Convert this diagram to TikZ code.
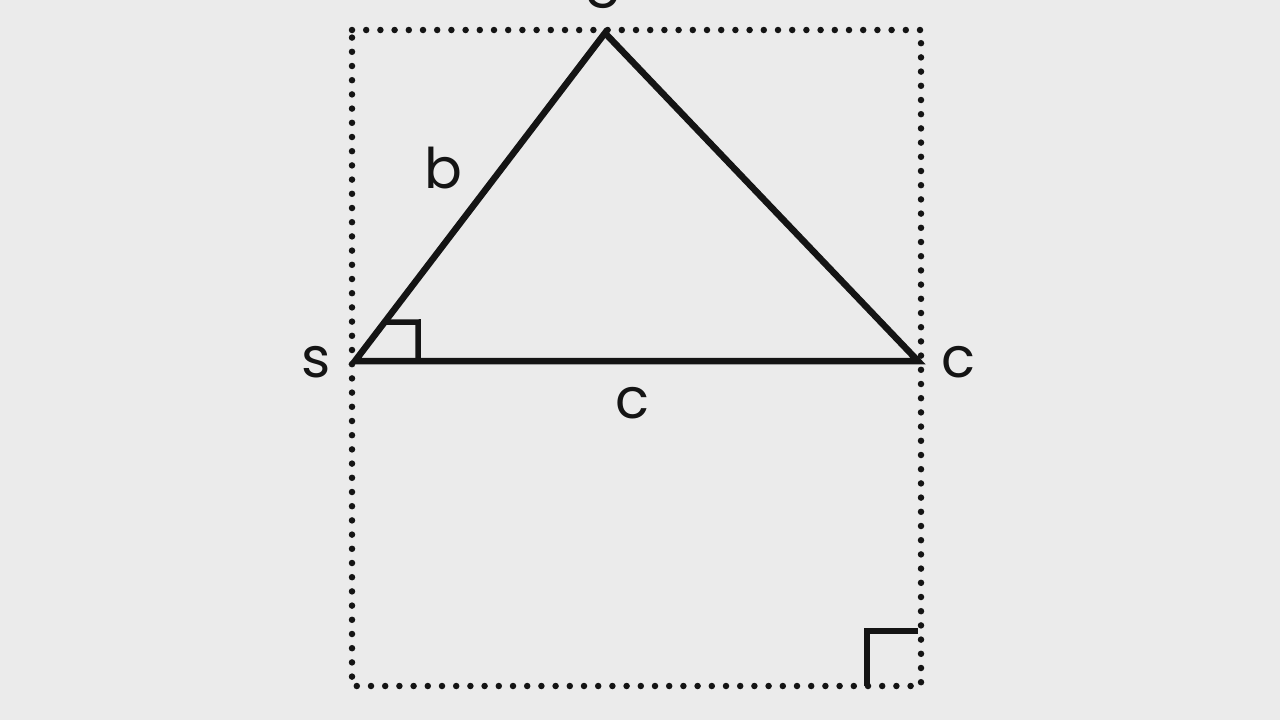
\documentclass[tikz,border=0pt]{standalone}
\usepackage{fontspec}
\setmainfont{Poppins}
\usepackage{xcolor}
\usetikzlibrary{positioning,calc}
\definecolor{bggray}{HTML}{EBEBEB}

\begin{document}
\begin{tikzpicture}[x=1pt,y=-1pt,
  side/.style={line width=6.5pt,line join=miter,black!92},
  dots/.style={line width=6.5pt,line cap=round,dash pattern=on 0pt off 14.2pt,black!92},
  lbl/.style={font=\fontsize{56}{60}\selectfont,text=black!92,inner sep=0pt}]
  % 背景
  \fill[bggray] (0,0) rectangle (1280,720);
  \useasboundingbox (0,0) rectangle (1280,720);
  % 点線の枠
  \coordinate (TL) at (352,30);
  \coordinate (TR) at (921,30);
  \coordinate (BR) at (921,686);
  \coordinate (BL) at (352,686);
  \draw[dots] (TL)--(TR)--(BR)--(BL)--cycle;
  % 三角形
  \coordinate (S) at (355,361);
  \coordinate (G) at (605,33);
  \coordinate (C) at (918,361);
  \draw[side] (S)--(G)--(C)--cycle;
  % 直角の印
  \draw[line width=5.5pt,black!92] ($(S)!0.1185!(G)$)--(418,322)--(418,361);
  \draw[line width=5.5pt,black!92] (867,686)--(867,631)--(918,631);
  % ラベル
  \node[lbl] (s) at (316,362) {s};
  \node[lbl] (c1) at (958,362) {c};
  \node[lbl] (c2) at (632,403) {c};
  \node[lbl] (b) at (443,168) {b};
  \node[lbl,anchor=base] (g) at (603,-6) {g};
\end{tikzpicture}
\end{document}
